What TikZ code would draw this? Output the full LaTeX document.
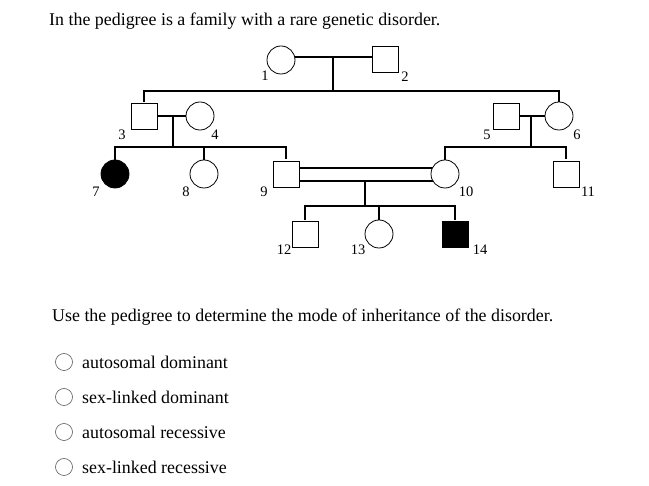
\documentclass[tikz,border=0pt]{standalone}
\usepackage{fontspec}
\setmainfont{Liberation Serif}
\begin{document}
\begin{tikzpicture}[x=1pt,y=-1pt,
  m/.style={draw,line width=0.8pt,minimum size=26pt,inner sep=0,fill=white},
  f/.style={draw,line width=0.8pt,circle,minimum size=28pt,inner sep=0,fill=white},
  aff/.style={fill=black},
  lab/.style={font=\fontsize{14.5}{14.5}\selectfont,inner sep=0},
  ln/.style={line width=1.3pt},
  txt/.style={font=\fontsize{17.9}{20}\selectfont,anchor=west,inner sep=0},
  rad/.style={draw,circle,minimum size=17pt,inner sep=0,line width=0.6pt,gray!70!black}]
\useasboundingbox (0,0) rectangle (649,486);
\coordinate (c12) at (333,57); \coordinate (d12) at (333,91);
\coordinate (c34) at (173,116); \coordinate (d34) at (173,147);
\coordinate (c56) at (531,116); \coordinate (d56) at (531,147);
\coordinate (c910) at (365,181); \coordinate (d910) at (365,206);
\draw[ln] (281,57) -- (385,57);
\draw[ln] (c12) -- (d12);
\draw[ln] (144,102) -- (144,91) -- (559,91) -- (559,102);
\draw[ln] (144,116) -- (200,116);
\draw[ln] (c34) -- (d34);
\draw[ln] (115,160) -- (115,147) -- (286,147) -- (286,159);
\draw[ln] (204,147) -- (204,160);
\draw[ln] (506,116) -- (559,116);
\draw[ln] (c56) -- (d56);
\draw[ln] (445,160) -- (445,147) -- (566,147) -- (566,159);
\draw[ln] (299,168) -- (440,168);
\draw[ln] (299,181) -- (440,181);
\draw[ln] (c910) -- (d910);
\draw[ln] (305,220) -- (305,206) -- (455,206) -- (455,220);
\draw[ln] (379,206) -- (379,220);
\node[f] (n1) at (281,60) {};
\node[m] (n2) at (385,59) {};
\node[m] (n3) at (144,116) {};
\node[f] (n4) at (200,116) {};
\node[m] (n5) at (506,116) {};
\node[f] (n6) at (559,116) {};
\node[f,aff] (n7) at (115,174) {};
\node[f] (n8) at (204,174) {};
\node[m] (n9) at (286,174) {};
\node[f] (n10) at (445,174) {};
\node[m] (n11) at (566,174) {};
\node[m] (n12) at (305,234) {};
\node[f] (n13) at (379,234) {};
\node[m,aff] (n14) at (455,234) {};
\node[lab] (l1) at (265,76) {1};
\node[lab] (l2) at (405,77) {2};
\node[lab] (l3) at (122,135) {3};
\node[lab] (l4) at (215,135) {4};
\node[lab] (l5) at (487,135) {5};
\node[lab] (l6) at (577,135) {6};
\node[lab] (l7) at (96,192) {7};
\node[lab] (l8) at (186,192) {8};
\node[lab] (l9) at (264,192) {9};
\node[lab] (l10) at (466,192) {10};
\node[lab] (l11) at (588,192) {11};
\node[lab] (l12) at (284,250) {12};
\node[lab] (l13) at (358,250) {13};
\node[lab] (l14) at (480,250) {14};
\node[txt] (t) at (49,21) {In the pedigree is a family with a rare genetic disorder.};
\node[txt] (q) at (52,317) {Use the pedigree to determine the mode of inheritance of the disorder.};
\node[rad] (r1) at (64,362) {}; \node[txt] (o1) at (82,362) {autosomal dominant};
\node[rad] (r2) at (64,397) {}; \node[txt] (o2) at (82,397) {sex-linked dominant};
\node[rad] (r3) at (64,432) {}; \node[txt] (o3) at (82,432) {autosomal recessive};
\node[rad] (r4) at (64,467) {}; \node[txt] (o4) at (82,467) {sex-linked recessive};
\end{tikzpicture}
\end{document}
